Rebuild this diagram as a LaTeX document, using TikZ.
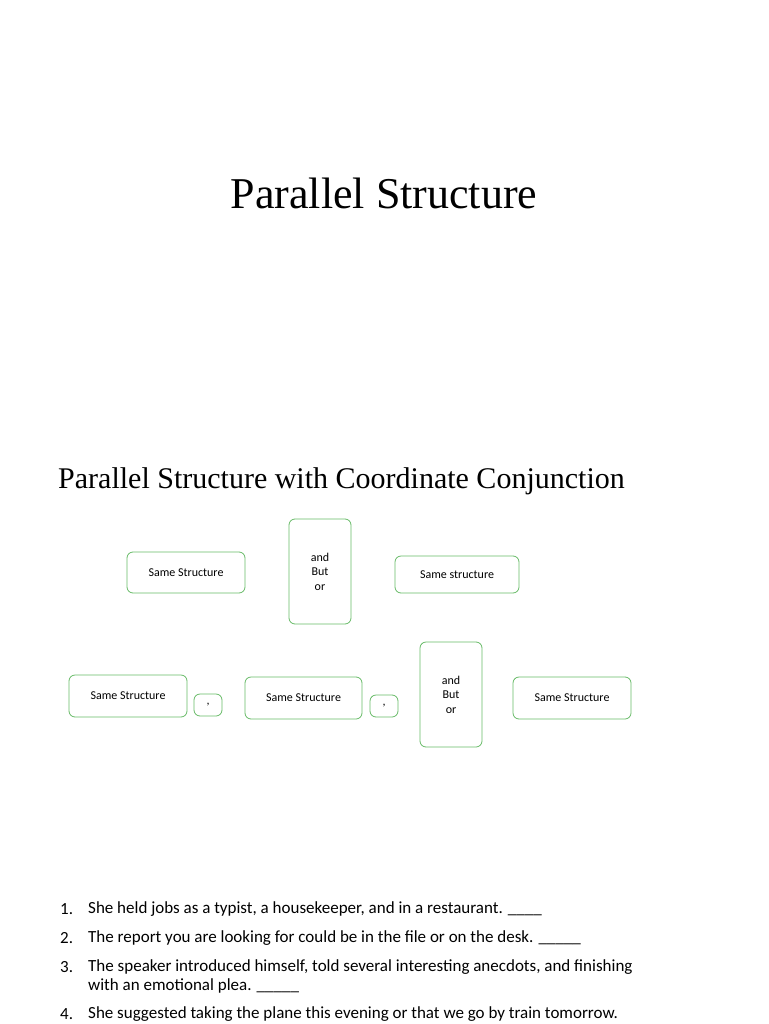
\documentclass[tikz,border=0pt]{standalone}
\usepackage{fontspec}
\setmainfont{Liberation Serif}
\newfontfamily\calfont{Carlito}
\begin{document}
\begin{tikzpicture}[x=1pt,y=-1pt,
 sbox/.style={draw=green!55!black!60, line width=0.8pt, rounded corners=6pt, font=\calfont\fontsize{12}{14.5}\selectfont, align=center, inner sep=0pt},
 item/.style={anchor=west, font=\calfont\fontsize{17}{20}\selectfont, inner sep=0pt}]
\useasboundingbox (0,0) rectangle (768,1024);
\node (title) at (384,193) {\fontsize{44}{50}\selectfont Parallel Structure};
\node[anchor=west, inner sep=0pt] (sub) at (58,481) {\fontsize{30}{34}\selectfont Parallel Structure with Coordinate Conjunction};
\node[sbox, minimum width=118pt, minimum height=41pt] (a) at (186,572.5) {Same Structure};
\node[sbox, minimum width=62pt, minimum height=105pt] (b) at (320,571.5) {and\\But\\or};
\node[sbox, minimum width=124pt, minimum height=37pt] (c) at (457,574.5) {Same structure};
\node[sbox, minimum width=118pt, minimum height=42pt] (d) at (128,696) {Same Structure};
\node[sbox, minimum width=28pt, minimum height=22pt] (e) at (208,705) {,};
\node[sbox, minimum width=117pt, minimum height=42pt] (f) at (303.5,698) {Same Structure};
\node[sbox, minimum width=28pt, minimum height=22pt] (g) at (384,706) {,};
\node[sbox, minimum width=62pt, minimum height=105pt] (h) at (451,694.5) {and\\But\\or};
\node[sbox, minimum width=118pt, minimum height=42pt] (i) at (572,698) {Same Structure};
\node[item] (n1) at (60,909) {1.}; \node[item] (t1) at (88,909) {She held jobs as a typist, a housekeeper, and in a restaurant. \_\_\_\_};
\node[item] (n2) at (60,938) {2.}; \node[item] (t2) at (88,938) {The report you are looking for could be in the file or on the desk. \_\_\_\_\_};
\node[item] (n3) at (60,967) {3.}; \node[item] (t3) at (88,967) {The speaker introduced himself, told several interesting anecdots, and finishing};
\node[item] (t3b) at (88,986) {with an emotional plea. \_\_\_\_\_};
\node[item] (n4) at (60,1014) {4.}; \node[item] (t4) at (88,1014) {She suggested taking the plane this evening or that we go by train tomorrow.};
\end{tikzpicture}
\end{document}
